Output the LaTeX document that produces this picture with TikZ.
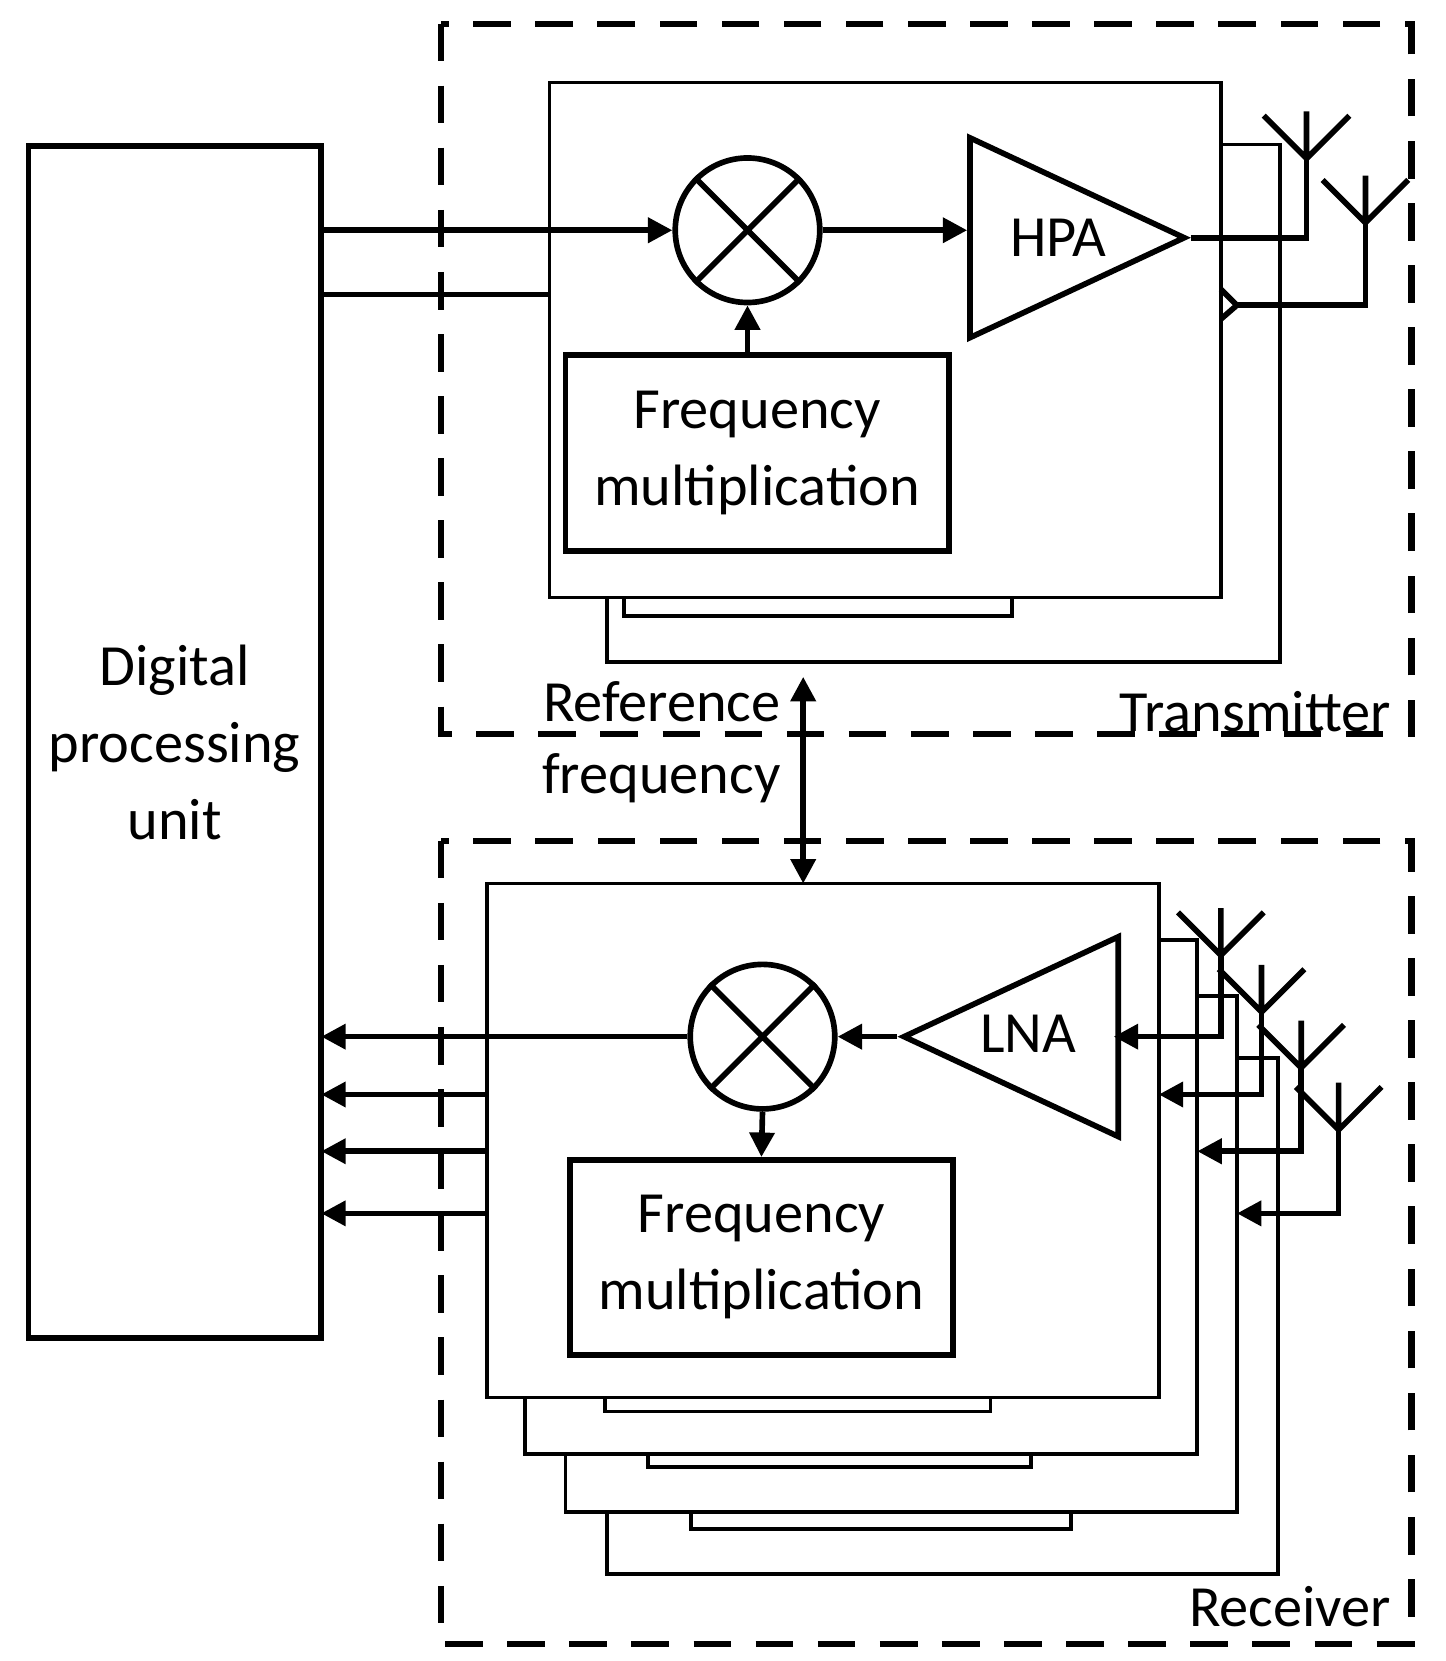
\documentclass[tikz,border=0pt]{standalone}
\usepackage{fontspec}
\setmainfont{Carlito}
\usetikzlibrary{arrows.meta,positioning,shapes.geometric}
\tikzset{
  blk/.style={draw, line width=3pt, rectangle, inner sep=0pt},
  card/.style={draw, line width=2pt, fill=white},
  frame/.style={draw, line width=3.2pt, dash pattern=on 20pt off 13pt},
  sig/.style={line width=3pt, -{Triangle[length=13pt,width=13pt]}},
  wire/.style={line width=3pt},
  mixer/.style={draw, circle, line width=3pt, minimum size=2.7cm, inner sep=0pt},
  amp/.style={draw, isosceles triangle, line width=3pt, isosceles triangle apex angle=50,
    minimum height=4.0cm, inner sep=0pt},
  lbl/.style={font=\fontsize{31}{37}\selectfont, align=center},
  aerial/.pic={\draw[line width=3pt] (0,0) -- (0,-44) (-40,-40) -- (0,0) -- (40,-40);}
}
\begin{document}
\begin{tikzpicture}[x=0.02cm, y=-0.02cm]
\useasboundingbox (0,0) rectangle (1350,1551);
% digital unit
\node[blk, minimum width=5.46cm, minimum height=22.26cm, lbl] (dpu) at (163,693)
  {Digital\\[4pt]processing\\[4pt]unit};
% transmitter
\draw[frame] (412,22) rectangle (1318,685);
\node[lbl, anchor=south east] (txl) at (1305,690) {Transmitter};
\draw[card] (567,135) rectangle (1195,618);
\draw[card] (583,540) rectangle (945,575);
\draw[card] (513,77) rectangle (1140,558);
\node[mixer] (mixt) at (698,215) {};
\draw[line width=3pt] (mixt.45) -- (mixt.225) (mixt.135) -- (mixt.315);
\node[blk, minimum width=7.16cm, minimum height=3.66cm, lbl] (fmt) at (707,423)
  {Frequency\\[4pt]multiplication};
\node[amp, anchor=apex] (hpa) at (1112,222) {};
\node[lbl] at (988,222) {HPA};
\draw[sig] (300,215) -- (mixt.west);
\draw[wire] (300,275) -- (513,275);
\draw[sig] (fmt.north -| mixt.south) -- (mixt.south);
\draw[sig] (mixt.east) -- (mixt.east -| hpa.west);
\pic at (1220,148) {aerial};
\pic at (1275,208) {aerial};
\coordinate (at1) at (1220,148);
\coordinate (at2) at (1275,208);
\draw[wire] (hpa.apex) -- (at1 |- hpa.apex) -- (at1);
\draw[wire] (1140,270) -- (1155,285) -- (1140,298);
\draw[wire] (1155,285) -- (at2 |- 0,285) -- (at2);
% reference
\node[lbl, anchor=east] (reft) at (735,655) {Reference};
\node[lbl, anchor=east] (reff) at (735,727) {frequency};
\draw[line width=3pt, {Triangle[length=13pt,width=13pt]}-{Triangle[length=13pt,width=13pt]}]
  (750,632) -- (750,825);
% receiver
\draw[frame] (412,785) rectangle (1318,1535);
\node[lbl, anchor=south east] (rxl) at (1305,1525) {Receiver};
\draw[card] (567,988) rectangle (1193,1470);
\draw[card] (645,1400) rectangle (1000,1428);
\draw[card] (528,930) rectangle (1155,1412);
\draw[card] (605,1345) rectangle (963,1370);
\draw[card] (490,878) rectangle (1118,1358);
\draw[card] (565,1290) rectangle (925,1318);
\draw[card] (455,825) rectangle (1082,1305);
\node[mixer] (mixr) at (712,968) {};
\draw[line width=3pt] (mixr.45) -- (mixr.225) (mixr.135) -- (mixr.315);
\node[blk, minimum width=7.16cm, minimum height=3.64cm, lbl] (fmr) at (711,1174)
  {Frequency\\[4pt]multiplication};
\node[amp, shape border rotate=180, anchor=apex] (lna) at (838,968) {};
\node[lbl] at (960,965) {LNA};
\draw[sig] (mixr.west) -- (300,968);
\foreach \yy in {1022,1075,1133} \draw[sig] (455,\yy) -- (300,\yy);
\draw[sig] (lna.apex) -- (mixr.east);
\draw[sig] (mixr.south) -- (fmr.north);
\foreach \xx/\yt/\ye/\xe in {1140/892/968/1040, 1178/945/1022/1082, 1215/997/1075/1118, 1250/1055/1133/1155} {
  \pic at (\xx,\yt) {aerial};
  \coordinate (ar) at (\xx,\yt);
  \draw[sig] (ar) -- (\xx,\ye) -- (\xe,\ye);
}
\end{tikzpicture}
\end{document}
